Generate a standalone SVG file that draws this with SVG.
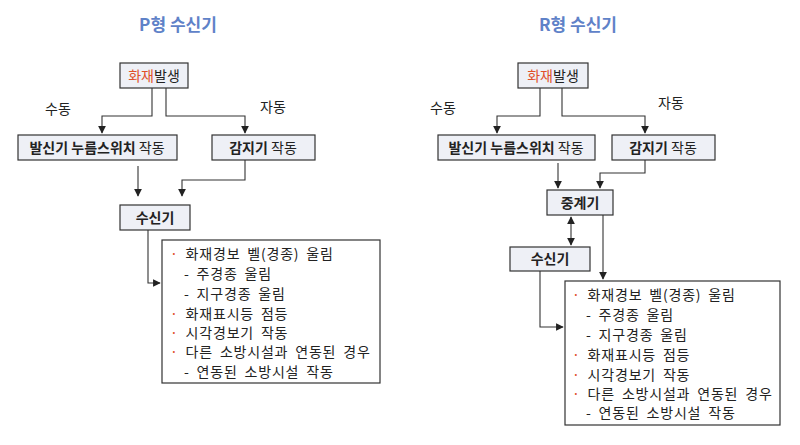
<svg xmlns="http://www.w3.org/2000/svg" width="800" height="445" viewBox="0 0 800 445">
<style>
text{font-family:"Noto Sans CJK KR","Noto Sans",sans-serif;font-size:14px;fill:#222}
.t{font-size:17px;fill:#5f82c8;font-weight:bold}
.b{font-weight:bold}
.r{fill:#e0502a}
.l text{letter-spacing:0.8px;word-spacing:3px}
.bx{fill:#eef0f6;stroke:#333;stroke-width:1.2}
.lb{fill:#fff;stroke:#333;stroke-width:1.2}
.c{fill:none;stroke:#333;stroke-width:1.1}
</style>
<defs><marker id="a" viewBox="0 0 10 10" refX="9" refY="5" markerWidth="7" markerHeight="7" orient="auto-start-reverse"><path d="M0,0L10,5L0,10z" fill="#222"/></marker></defs>
<rect width="800" height="445" fill="#fff"/>
<text class="t" x="178" y="31" text-anchor="middle">P형 수신기</text>
<text class="t" x="578" y="31" text-anchor="middle">R형 수신기</text>
<g id="conn">
<path class="c" d="M152,88V116H102V133" marker-end="url(#a)"/>
<path class="c" d="M166,88V116H245V133" marker-end="url(#a)"/>
<path class="c" d="M138,166V196" marker-end="url(#a)"/>
<path class="c" d="M245,160V180H182V196" marker-end="url(#a)"/>
<path class="c" d="M148,230V283H160" marker-end="url(#a)"/>
<path class="c" d="M540,88V116H497V133" marker-end="url(#a)"/>
<path class="c" d="M562,88V116H645V133" marker-end="url(#a)"/>
<path class="c" d="M558,163V188" marker-end="url(#a)"/>
<path class="c" d="M645,160V173H600V188" marker-end="url(#a)"/>
<path class="c" d="M571,217V245" marker-start="url(#a)" marker-end="url(#a)"/>
<path class="c" d="M603,215V279" marker-end="url(#a)"/>
<path class="c" d="M540,270V327H563" marker-end="url(#a)"/>
</g>
<text x="45" y="114">수동</text><text x="260" y="112">자동</text>
<text x="430" y="113">수동</text><text x="658" y="108">자동</text>
<g id="p-fire"><rect class="bx" x="120" y="63" width="68" height="25"/><text x="154" y="81" text-anchor="middle"><tspan class="r">화재</tspan>발생</text></g>
<g id="p-manual"><rect class="bx" x="18" y="135" width="159" height="25"/><text x="97" y="153" text-anchor="middle"><tspan class="b">발신기 누름스위치</tspan> 작동</text></g>
<g id="p-auto"><rect class="bx" x="212" y="135" width="103" height="25"/><text x="263" y="153" text-anchor="middle"><tspan class="b">감지기</tspan> 작동</text></g>
<g id="p-recv"><rect class="bx" x="120" y="205" width="70" height="25"/><text x="155" y="223" text-anchor="middle" class="b">수신기</text></g>
<g id="p-list" class="l"><rect class="lb" x="162" y="240" width="218" height="143"/>
<text x="170" y="259"><tspan class="r">·</tspan> 화재경보 벨(경종) 울림</text>
<text x="184" y="279">- 주경종 울림</text>
<text x="184" y="299">- 지구경종 울림</text>
<text x="170" y="319"><tspan class="r">·</tspan> 화재표시등 점등</text>
<text x="170" y="338"><tspan class="r">·</tspan> 시각경보기 작동</text>
<text x="170" y="357"><tspan class="r">·</tspan> 다른 소방시설과 연동된 경우</text>
<text x="184" y="377">- 연동된 소방시설 작동</text></g>
<g id="r-fire"><rect class="bx" x="518" y="63" width="70" height="25"/><text x="553" y="81" text-anchor="middle"><tspan class="r">화재</tspan>발생</text></g>
<g id="r-manual"><rect class="bx" x="438" y="135" width="157" height="25"/><text x="516" y="153" text-anchor="middle"><tspan class="b">발신기 누름스위치</tspan> 작동</text></g>
<g id="r-auto"><rect class="bx" x="612" y="135" width="103" height="25"/><text x="663" y="153" text-anchor="middle"><tspan class="b">감지기</tspan> 작동</text></g>
<g id="r-relay"><rect class="bx" x="547" y="190" width="66" height="25"/><text x="580" y="208" text-anchor="middle" class="b">중계기</text></g>
<g id="r-recv"><rect class="bx" x="510" y="247" width="80" height="24"/><text x="550" y="264" text-anchor="middle" class="b">수신기</text></g>
<g id="r-list" class="l"><rect class="lb" x="565" y="281" width="215" height="144"/>
<text x="572" y="300"><tspan class="r">·</tspan> 화재경보 벨(경종) 울림</text>
<text x="586" y="320">- 주경종 울림</text>
<text x="586" y="340">- 지구경종 울림</text>
<text x="572" y="360"><tspan class="r">·</tspan> 화재표시등 점등</text>
<text x="572" y="380"><tspan class="r">·</tspan> 시각경보기 작동</text>
<text x="572" y="399"><tspan class="r">·</tspan> 다른 소방시설과 연동된 경우</text>
<text x="586" y="418">- 연동된 소방시설 작동</text></g>
</svg>
